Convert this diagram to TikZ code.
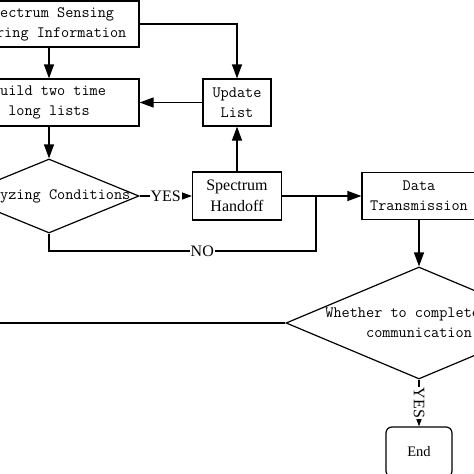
\documentclass[tikz,border=0pt]{standalone}
\usepackage{fontspec}
\usepackage{tikz}
\usetikzlibrary{arrows.meta,positioning,shapes.geometric}
\newfontfamily\timesfont{Liberation Serif}
\tikzset{
  block/.style={rectangle, draw=black, line width=1.2pt, align=center, inner sep=0pt, font=\ttfamily\fontsize{15.8}{20}\selectfont},
  serifblock/.style={block, font=\timesfont\fontsize{16}{21}\selectfont},
  stopblock/.style={block, rounded corners=6pt, font=\timesfont\fontsize{14.5}{18}\selectfont},
  cond/.style={diamond, draw=black, line width=1.2pt, inner sep=0pt, font=\ttfamily\fontsize{15.8}{20}\selectfont},
  flow/.style={-{Triangle[length=14pt,width=10pt]}, line width=1.2pt},
  link/.style={line width=1.2pt},
  tag/.style={fill=white, inner sep=1pt, font=\timesfont\fontsize{16}{18}\selectfont}
}

\begin{document}
\begin{tikzpicture}[x=1pt, y=-1pt]
\useasboundingbox (0,0) rectangle (474,474);
\fill[white] (0,0) rectangle (474,474);
\clip (0,0) rectangle (474,474);
\node[block, minimum width=180pt, minimum height=46pt] (sense) at (49,24) {Spectrum Sensing\\Sharing Information};
\node[block, minimum width=180pt, minimum height=47pt] (build) at (49,102.5) {Build two time\\long lists};
\node[block, minimum width=68pt, minimum height=47pt] (update) at (237,102.5) {Update\\List};
\node[cond, minimum width=180pt, minimum height=74pt] (anal) at (49,196) {\makebox[0pt]{Analyzing Conditions}};
\node[serifblock, minimum width=89pt, minimum height=48pt] (handoff) at (237,196) {Spectrum\\Handoff};
\node[block, minimum width=114pt, minimum height=47pt] (data) at (419,196) {Data\\Transmission};
\node[cond, minimum width=266pt, minimum height=112pt] (dec) at (419,323) {\makebox[0pt]{\begin{tabular}{@{}c@{}}Whether to complete the\\communication\end{tabular}}};
\node[stopblock, minimum width=66pt, minimum height=50pt] (end) at (419,452) {End};
\coordinate (join) at (316,196);
\coordinate (nobend) at (316,251);
\coordinate (back) at (-10,323);
% connectors
\draw[flow] (sense.south) -- (build.north);
\draw[flow] (sense.east) -| (update.north);
\draw[flow] (update.west) -- (build.east);
\draw[flow] (build.south) -- (anal.north);
\draw[flow] (anal.east) -- node[tag]{YES} (handoff.west);
\draw[flow] (handoff.north) -- (update.south);
\draw[flow] (handoff.east) -- (data.west);
\draw[link] (anal.south) |- node[tag, pos=0.787]{NO} (nobend) -- (join);
\draw[flow] (data.south) -- (dec.north);
\draw[flow] (dec.south) -- node[tag, rotate=-90]{YES} (end.north);
\draw[link] (dec.west) -- (back);
\end{tikzpicture}
\end{document}
